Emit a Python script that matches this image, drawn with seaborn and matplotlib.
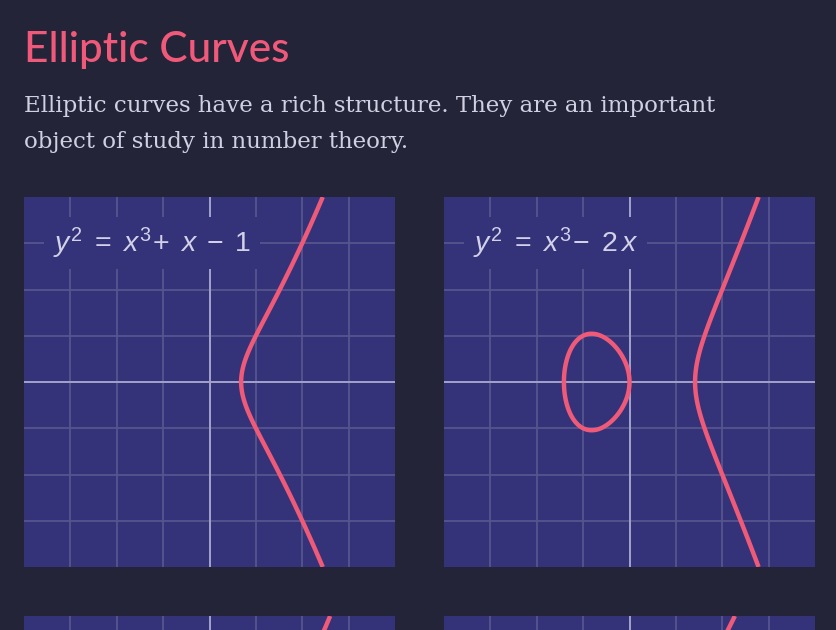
import numpy as np
import seaborn as sns
import matplotlib.pyplot as plt

# curves y^2 = x^3 + a*x + b, one per panel (bottom row is cut off by the frame)
coef_a = [1, -2, -1, 1]
coef_b = [-1, 0, 1, 2]
labels = [r"$y^2\ =\ x^3\!+\ x\;-\;1$", r"$y^2\ =\ x^3\!-\ 2\,x$", None, None]
grid_ticks = [-3, -2, -1, 0, 1, 2, 3]

BG = "#232437"
PANEL = "#343379"
GRID = "#56558f"
AXIS = "#a3a2c9"
PINK = "#ee5a78"
TEXT = "#d2d1e8"

sns.set_theme(style="dark")
plt.rcParams["mathtext.fontset"] = "custom"
plt.rcParams["mathtext.rm"] = "Liberation Sans"
plt.rcParams["mathtext.it"] = "Liberation Sans:italic"

W, H = 836, 630
fig = plt.figure(figsize=(W / 100, H / 100), dpi=100, facecolor=BG)

def px_axes(left, top, w, h):
    return fig.add_axes([left / W, 1 - (top + h) / H, w / W, h / H])

spots = [(24, 197), (444, 197), (24, 616), (444, 616)]
xs = np.linspace(-4, 4, 801)
X, Y = np.meshgrid(xs, xs)

for i, (left, top) in enumerate(spots):
    ax = px_axes(left, top, 371, 370)
    ax.set_facecolor(PANEL)
    ax.set_xlim(-4, 4)
    ax.set_ylim(-4, 4)
    ax.set_xticks(grid_ticks)
    ax.set_yticks(grid_ticks)
    ax.tick_params(length=0, labelbottom=False, labelleft=False)
    ax.grid(True, color=GRID, lw=1.3)
    for s in ax.spines.values():
        s.set_visible(False)
    ax.axhline(0, color=AXIS, lw=1.4, zorder=2)
    ax.axvline(0, color=AXIS, lw=1.4, zorder=2)
    Z = Y**2 - X**3 - coef_a[i] * X - coef_b[i]
    ax.contour(X, Y, Z, levels=[0], colors=PINK, linewidths=3.2, zorder=3)
    if labels[i]:
        ax.text(0.078, 0.851, labels[i], transform=ax.transAxes, fontsize=20.5,
                color=TEXT, va="baseline", ha="left", zorder=4,
                bbox=dict(boxstyle="square,pad=0.3", fc=PANEL, ec="none"))

fig.text(24 / W, 1 - 62 / H, "Elliptic Curves", fontsize=30.5, color="#f0597a",
         family="Lato", weight="medium", va="baseline")
fig.text(24 / W, 1 - 112 / H,
         "Elliptic curves have a rich structure. They are an important",
         fontsize=16.5, color="#d0d0e2", family="DejaVu Serif", va="baseline")
fig.text(24 / W, 1 - 148 / H, "object of study in number theory.",
         fontsize=16.5, color="#d0d0e2", family="DejaVu Serif", va="baseline")

fig.savefig("out.png", dpi=100, facecolor=BG)
